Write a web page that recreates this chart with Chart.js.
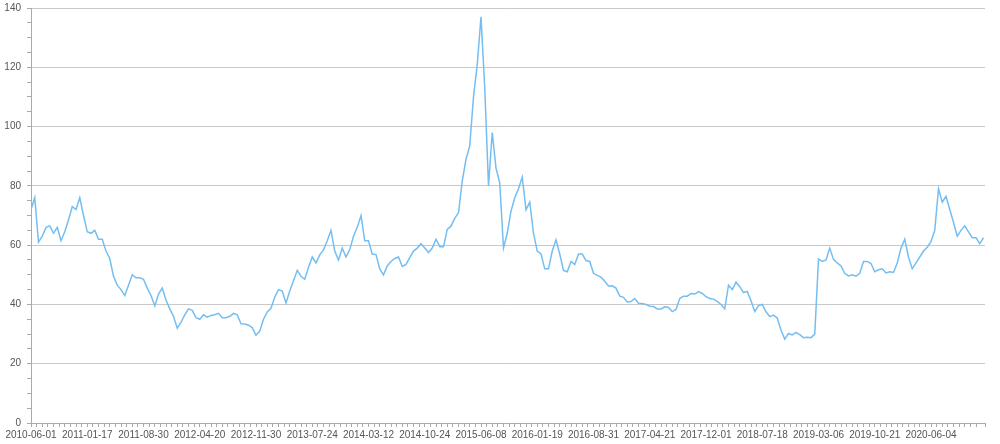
<!DOCTYPE html>
<html>
<head>
<meta charset="utf-8">
<script src="https://cdn.jsdelivr.net/npm/chart.js@4/dist/chart.umd.min.js"></script>
<style>
  body { margin: 0; background: #fff; }
  canvas { display: block; }
</style>
</head>
<body>
<canvas id="chart" width="1000" height="444"></canvas>
<script>
// Tick labels on the x axis (one every 150 trading days)
const dateLabels = [
  "2010-06-01", "2011-01-17", "2011-08-30", "2012-04-20", "2012-11-30",
  "2013-07-24", "2014-03-12", "2014-10-24", "2015-06-08", "2016-01-19",
  "2016-08-31", "2017-04-21", "2017-12-01", "2018-07-18", "2019-03-06",
  "2019-10-21", "2020-06-04"
];

// Series, every 10 trading days
const values = [
  72, 76, 61, 63, 66, 66.5, 64, 66, 61.5, 64.5,
  68.5, 73, 72, 76, 70, 64.5, 64, 65, 62, 62,
  58, 55.5, 49.5, 46.5, 45, 43, 46.5, 50, 49, 49,
  48.5, 45.5, 43, 39.5, 43.5, 45.5, 41.5, 38.5, 36, 32,
  34, 36.5, 38.5, 38, 35.5, 35, 36.5, 35.7, 36.3, 36.5,
  37, 35.5, 35.5, 36, 37, 36.5, 33.5, 33.4, 33, 32.2,
  29.6, 31, 35, 37.5, 38.7, 42.5, 45, 44.5, 40.5, 44.5,
  48, 51.5, 49.5, 48.5, 52.5, 56, 54, 56.7, 58.4, 61.5,
  65, 58, 55, 59, 56, 58.5, 63, 66, 70, 61.5,
  61.5, 57, 56.8, 52, 50, 53, 54.5, 55.5, 56, 52.8,
  53.5, 55.8, 58, 59, 60.5, 59, 57.5, 59, 62, 59.5,
  59.5, 65.3, 66.4, 69, 71, 81.6, 89, 93.5, 110, 121,
  137, 113, 80, 98, 86, 81, 59, 64, 71.5, 76,
  79, 83, 71.9, 74.5, 64, 58, 57, 52, 52, 58,
  61.8, 57, 51.5, 51, 54.5, 53.5, 57, 57, 54.8, 54.5,
  50.5, 49.8, 49.2, 47.8, 46.2, 46.3, 45.5, 42.8, 42.4, 40.8,
  41, 42, 40.4, 40.3, 40, 39.4, 39.3, 38.5, 38.5, 39.2,
  39, 37.6, 38.3, 42, 42.8, 42.8, 43.7, 43.5, 44.3, 43.7,
  42.6, 42, 41.8, 41, 40, 38.5, 46.5, 45, 47.5, 46,
  44, 44.4, 41.2, 37.6, 39.6, 40, 37.5, 35.9, 36.4, 35.4,
  31.3, 28.3, 30.2, 29.7, 30.6, 29.8, 28.8, 28.9, 28.8, 30,
  55.3, 54.5, 55, 59, 55.2, 54, 53, 50.5, 49.6, 50,
  49.5, 50.5, 54.5, 54.5, 53.8, 51, 51.7, 52, 50.6, 51,
  50.8, 54, 59, 62, 56, 52, 54, 56, 58, 59.3,
  61.2, 65, 79, 74.5, 76.5, 72, 67.7, 63, 65, 66.5,
  64.5, 62.5, 62.5, 60.5, 62.5
];

const STEP = 10;          // trading days between values
const LABEL_EVERY = 150;  // trading days between x labels
const MINOR_EVERY = 15;   // trading days between x tick marks
const X_MAX = 2544;
const yMajor = 20;

const points = values.map((v, i) => ({ x: i * STEP, y: v }));
const axisFont = { family: "Liberation Sans, Arial, sans-serif", size: 10 };

new Chart(document.getElementById("chart"), {
  type: "line",
  data: {
    datasets: [{
      data: points,
      borderColor: "#74bef2",
      borderWidth: 1.5,
      pointRadius: 0,
      tension: 0,
      fill: false
    }]
  },
  options: {
    responsive: false,
    animation: false,
    layout: { padding: { top: 8, right: 15, bottom: 1, left: 0 } },
    plugins: {
      legend: { display: false },
      tooltip: { enabled: false }
    },
    scales: {
      x: {
        type: "linear",
        min: 0,
        max: X_MAX,
        border: { color: "#aaa" },
        grid: { drawOnChartArea: false, tickLength: 4, tickColor: "#aaa" },
        ticks: {
          stepSize: MINOR_EVERY,
          autoSkip: false,
          maxRotation: 0,
          padding: 2,
          color: "#555",
          font: axisFont,
          callback: v => v % LABEL_EVERY === 0 ? dateLabels[v / LABEL_EVERY] : ""
        }
      },
      y: {
        min: 0,
        max: 140,
        afterFit: s => { s.width = 31; s.paddingTop = 0; s.paddingBottom = 0; },
        border: { color: "#aaa" },
        grid: {
          color: c => c.tick && c.tick.value % yMajor === 0 ? "#c8c8c8" : "rgba(0,0,0,0)",
          tickColor: "#aaa",
          tickLength: 4
        },
        ticks: {
          stepSize: 5,
          autoSkip: false,
          padding: 6,
          color: "#555",
          font: axisFont,
          callback: v => v % yMajor === 0 ? v : ""
        }
      }
    }
  }
});
</script>
</body>
</html>
